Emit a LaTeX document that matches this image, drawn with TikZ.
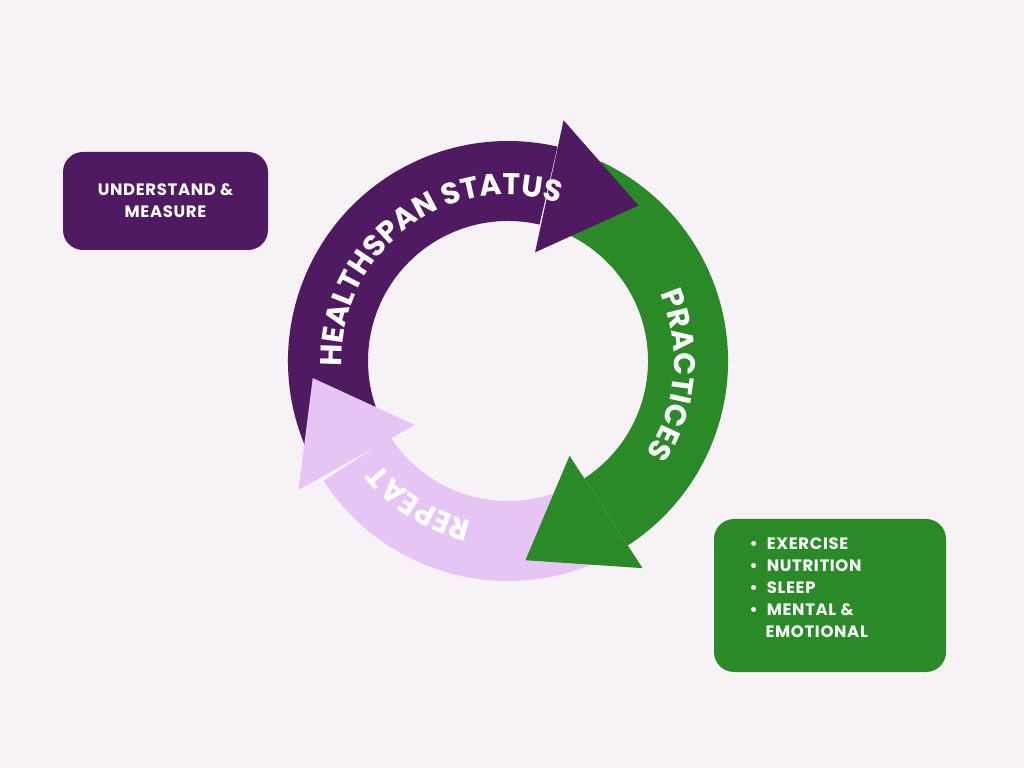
\documentclass[tikz,border=0pt]{standalone}
\usepackage{fontspec}
\setsansfont{Poppins}
\newfontfamily\pop{Poppins}
\newfontfamily\popw{Poppins}[LetterSpace=4]
\usetikzlibrary{decorations.text}
\definecolor{bg}{HTML}{F6F2F6}
\definecolor{pur}{HTML}{4F1A62}
\definecolor{grn}{HTML}{2B8A28}
\definecolor{pnk}{HTML}{E6C4F3}
\tikzset{
 box/.style={rounded corners=20pt,inner sep=0pt,text=white,font=\popw\bfseries\fontsize{16.5}{22}\selectfont},
 ringtext/.style={decorate,decoration={text along path,text align=center,text color=white,text={|\pop\bfseries\fontsize{30}{32}\selectfont|#1}}}
}
\begin{document}
\begin{tikzpicture}[x=1pt,y=1pt]
\fill[bg] (0,0) rectangle (1024,768);
\useasboundingbox (0,0) rectangle (1024,768);
\begin{scope}[shift={(508,407)}]
% bodies
\fill[pur] (205:220) arc[start angle=205,end angle=77,radius=220] -- (77:140) arc[start angle=77,end angle=205,radius=140] -- cycle;
\fill[grn] (65:220) arc[start angle=65,end angle=-57,radius=220] -- (-57:140) arc[start angle=-57,end angle=65,radius=140] -- cycle;
\fill[pnk] (-60:220) arc[start angle=-60,end angle=-147,radius=220] -- (-147:140) arc[start angle=-147,end angle=-60,radius=140] -- cycle;
% heads
\fill[pur] (77:247) -- (50:203) -- (76:112) -- cycle;
\fill[grn] (-57:247) -- (-85:200) -- (-57:113) -- cycle;
\fill[pnk] (-148.4:246) -- (-175:196) -- (-145.5:113) -- cycle;
% texts
\path[ringtext={HEALTHSPAN STATUS}] (196:166) arc[start angle=196,end angle=58,radius=166];
\path[ringtext={PRACTICES}] (50:166) arc[start angle=50,end angle=-60,radius=166];
\path[ringtext={REPEAT}] (-82:164) arc[start angle=-82,end angle=-162,radius=164];
\end{scope}
\node[box,fill=pur,minimum width=205pt,minimum height=98pt,align=center] (um) at (165.5,567) {UNDERSTAND \&\\MEASURE};
\node[box,fill=grn,minimum width=232pt,minimum height=153pt] (pr) at (830,172.5) {};
\node[text=white,font=\popw\bfseries\fontsize{16.5}{22}\selectfont,align=left,anchor=north west] (lst) at (746,234)
 {\textbullet\hspace{9pt}EXERCISE\\\textbullet\hspace{9pt}NUTRITION\\\textbullet\hspace{9pt}SLEEP\\\textbullet\hspace{9pt}MENTAL \&\\\hspace{16pt}EMOTIONAL};
\end{tikzpicture}
\end{document}
